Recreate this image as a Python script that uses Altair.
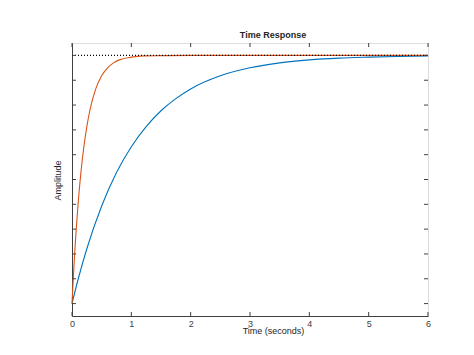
import altair as alt
import pandas as pd

# Blue step response
t_blue = [0, 0.1, 0.25, 0.5, 0.75, 1.0, 1.25, 1.5, 1.75, 2.0, 2.5, 3.0, 3.5, 4.0, 4.5, 5.0, 5.5, 6.0]
y_blue = [0, 0.095, 0.221, 0.393, 0.528, 0.632, 0.713, 0.777, 0.826, 0.865, 0.918, 0.950, 0.970, 0.982, 0.989, 0.993, 0.996, 0.998]

# Orange step response
t_orange = [0, 0.02, 0.05, 0.1, 0.15, 0.2, 0.25, 0.3, 0.4, 0.5, 0.6, 0.7, 0.8, 1.0, 1.2, 1.5, 2.0, 3.0, 4.0, 5.0, 6.0]
y_orange = [0, 0.095, 0.221, 0.393, 0.528, 0.632, 0.713, 0.777, 0.865, 0.918, 0.950, 0.970, 0.982, 0.993, 0.998, 0.999, 1.0, 1.0, 1.0, 1.0, 1.0]

# Steady-state reference line
t_ref = [0, 6]
y_ref = [1, 1]

x_ticks = [0, 1, 2, 3, 4, 5, 6]
y_ticks = [0, 0.1, 0.2, 0.3, 0.4, 0.5, 0.6, 0.7, 0.8, 0.9, 1.0]

XMIN, XMAX = 0, 6
YMIN, YMAX = -0.05, 1.05
W, H = 356, 273
tick_px = 4
dx_tick = tick_px * (XMAX - XMIN) / W
dy_tick = tick_px * (YMAX - YMIN) / H

df_blue = pd.DataFrame({"t": t_blue, "y": y_blue})
df_orange = pd.DataFrame({"t": t_orange, "y": y_orange})
df_ref = pd.DataFrame({"t": t_ref, "y": y_ref})

xs = alt.Scale(domain=[XMIN, XMAX], nice=False, zero=False)
ys = alt.Scale(domain=[YMIN, YMAX], nice=False, zero=False)

AX = "#404040"

x_axis = alt.Axis(values=x_ticks, format="d", ticks=False, labelPadding=3, labelFontSize=9,
                  labelFlush=False, labelOverlap=False,
                  labelColor=AX, domainColor=AX, grid=False, title="Time (seconds)",
                  titleFontSize=9, titleFontWeight="normal", titleColor="#262626",
                  titleX=201, titleY=14, titleBaseline="middle", titleAnchor="middle",
                  labelFont="Liberation Sans", titleFont="Liberation Sans")
y_axis = alt.Axis(values=y_ticks, ticks=False, labels=False, domainColor=AX, grid=False,
                  title="Amplitude", titleFontSize=9, titleFontWeight="normal",
                  titleColor="#262626", titleX=-15, titleY=137, titleAngle=270,
                  titleBaseline="middle", titleAnchor="middle", titleFont="Liberation Sans")

blue = alt.Chart(df_blue).mark_line(color="#0072BD", strokeWidth=1.1, interpolate="monotone").encode(
    x=alt.X("t:Q", scale=xs, axis=x_axis),
    y=alt.Y("y:Q", scale=ys, axis=y_axis),
)
orange = alt.Chart(df_orange).mark_line(color="#D95319", strokeWidth=1.1, interpolate="monotone").encode(
    x=alt.X("t:Q", scale=xs),
    y=alt.Y("y:Q", scale=ys),
)
ref = alt.Chart(df_ref).mark_line(color="black", strokeWidth=1.2, strokeDash=[1, 2]).encode(
    x=alt.X("t:Q", scale=xs),
    y=alt.Y("y:Q", scale=ys),
)

# inward ticks on four sides
xt = pd.DataFrame({"t": x_ticks})
xt["b0"] = YMIN
xt["b1"] = YMIN + dy_tick
xt["t0"] = YMAX
xt["t1"] = YMAX - dy_tick
yt = pd.DataFrame({"v": y_ticks})
yt["l0"] = XMIN
yt["l1"] = XMIN + dx_tick
yt["r0"] = XMAX
yt["r1"] = XMAX - dx_tick

tick_style = dict(color=AX, strokeWidth=1)
xb = alt.Chart(xt).mark_rule(**tick_style).encode(x=alt.X("t:Q", scale=xs), y=alt.Y("b0:Q", scale=ys), y2="b1:Q")
xtop = alt.Chart(xt).mark_rule(**tick_style).encode(x=alt.X("t:Q", scale=xs), y=alt.Y("t0:Q", scale=ys), y2="t1:Q")
yl = alt.Chart(yt).mark_rule(**tick_style).encode(y=alt.Y("v:Q", scale=ys), x=alt.X("l0:Q", scale=xs), x2="l1:Q")
yr = alt.Chart(yt).mark_rule(**tick_style).encode(y=alt.Y("v:Q", scale=ys), x=alt.X("r0:Q", scale=xs), x2="r1:Q")

chart = alt.layer(blue, orange, ref, xb, xtop, yl, yr).properties(
    width=W, height=H,
    title=alt.TitleParams("Time Response", fontSize=9, fontWeight="bold", color="#262626",
                          font="Liberation Sans", anchor="middle", dx=23, offset=3),
    autosize=alt.AutoSizeParams(type="none"),
    padding={"left": 72, "top": 43, "right": 46, "bottom": 39},
).configure_view(stroke=AX, strokeWidth=1).configure(background="white")

chart.save("out.html", embed_options={"renderer": "svg", "actions": False})
